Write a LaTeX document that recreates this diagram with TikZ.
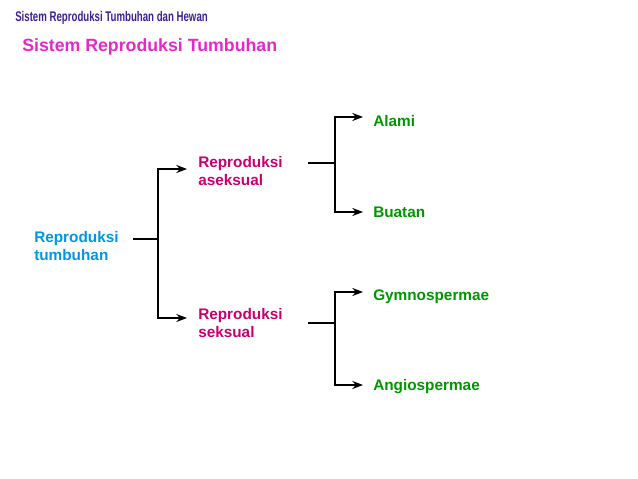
\documentclass[tikz,border=0pt]{standalone}
\usepackage{fontspec}
\setmainfont{Liberation Sans}
\usetikzlibrary{arrows.meta}
\definecolor{tblue}{RGB}{0,150,230}
\definecolor{tmag}{RGB}{200,0,110}
\definecolor{tgreen}{RGB}{0,150,0}
\definecolor{tpink}{RGB}{230,40,200}
\definecolor{tpurple}{RGB}{60,30,150}
\tikzset{
  lbl/.style={anchor=west,align=left,font=\bfseries\fontsize{11.5}{13.5}\selectfont,inner sep=0pt},
  conn/.style={line width=1.2pt},
  arr/.style={line width=1.2pt,-{Stealth[length=8pt,width=6pt]}}
}
\begin{document}
\begin{tikzpicture}[x=0.75pt,y=-0.75pt]
\useasboundingbox (0,0) rectangle (638,478);
\node[anchor=west,inner sep=0pt,text=tpurple] (title) at (15,18) {\scalebox{0.69}[1]{\bfseries\fontsize{10.5}{12}\selectfont Sistem Reproduksi Tumbuhan dan Hewan}};
\node[anchor=west,inner sep=0pt,text=tpink,font=\bfseries\fontsize{13.3}{16}\selectfont] (sub) at (22,47) {Sistem Reproduksi Tumbuhan};
\node[lbl,text=tblue] (root) at (34,246) {Reproduksi\\tumbuhan};
\node[lbl,text=tmag] (ase) at (198,171) {Reproduksi\\aseksual};
\node[lbl,text=tmag] (sek) at (198,323) {Reproduksi\\seksual};
\node[lbl,text=tgreen] (alami) at (373,121) {Alami};
\node[lbl,text=tgreen] (buatan) at (373,212) {Buatan};
\node[lbl,text=tgreen] (gym) at (373,297) {Gymnospermae};
\node[lbl,text=tgreen] (ang) at (373,387) {Angiospermae};
\coordinate (r0) at (133,239); \coordinate (r1) at (158,239);
\coordinate (ra) at (187,169); \coordinate (rs) at (187,318);
\coordinate (a0) at (308,163); \coordinate (a1) at (335,163);
\coordinate (s0) at (308,323); \coordinate (s1) at (335,323);
\coordinate (aa) at (363,117); \coordinate (ab) at (363,212);
\coordinate (sg) at (363,292); \coordinate (sa) at (363,385);
\draw[conn] (r0) -- (r1);
\draw[arr] (r1) |- (ra);
\draw[arr] (r1) |- (rs);
\draw[conn] (a0) -- (a1);
\draw[arr] (a1) |- (aa);
\draw[arr] (a1) |- (ab);
\draw[conn] (s0) -- (s1);
\draw[arr] (s1) |- (sg);
\draw[arr] (s1) |- (sa);
\end{tikzpicture}
\end{document}
